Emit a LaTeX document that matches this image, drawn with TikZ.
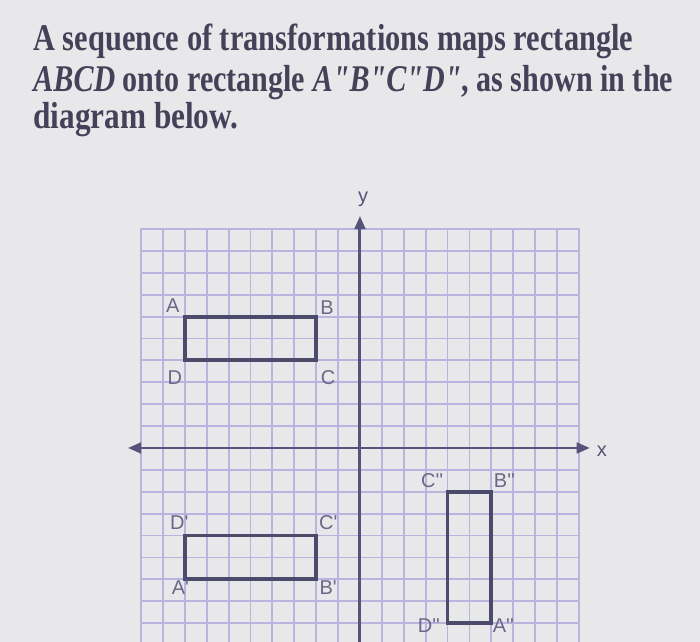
\documentclass[tikz,border=0pt]{standalone}
\usepackage{fontspec}
\setmainfont{Liberation Serif}
\newfontfamily\titlefont{Liberation Serif}
\newfontfamily\labelfont{Liberation Sans}
\usepackage{graphicx}
\usetikzlibrary{arrows.meta}
\definecolor{bgcol}{HTML}{E8E8EA}
\definecolor{gridcol}{HTML}{B8B4DE}
\definecolor{axiscol}{HTML}{55537A}
\definecolor{rectcol}{HTML}{4D4B6C}
\definecolor{labcol}{HTML}{6A6889}
\definecolor{textcol}{HTML}{444258}
\tikzset{
  gridline/.style={draw=gridcol, line width=1.2pt},
  axisline/.style={draw=axiscol, line width=1.9pt, {Triangle[length=3mm,width=2.4mm]}-{Triangle[length=3mm,width=2.4mm]}},
  figrect/.style={draw=rectcol, line width=2.5pt, line join=miter},
  ptlabel/.style={text=labcol, font=\labelfont\fontsize{13}{13}\selectfont, inner sep=0pt},
  axlabel/.style={text=axiscol, font=\labelfont\fontsize{13}{13}\selectfont, inner sep=0pt},
  titleline/.style={text=textcol, anchor=base west, inner sep=0pt, font=\titlefont\bfseries\fontsize{24.5}{24.5}\selectfont}
}
\begin{document}
\begin{tikzpicture}[x=0.5cm,y=0.5cm]
\useasboundingbox (-16.44,-8.86) rectangle (15.53,20.46);
\fill[bgcol] (-16.44,-8.86) rectangle (15.53,20.46);
% title
\node[titleline] (t1) at (-14.93,18.17) {\resizebox{13.70cm}{\height}{A sequence of transformations maps rectangle}};
\node[titleline] (t2) at (-14.93,16.30) {\resizebox{14.61cm}{\height}{\textit{ABCD} onto rectangle \textit{A"B"C"D"}, as shown in the}};
\node[titleline] (t3) at (-14.93,14.61) {\resizebox{4.68cm}{\height}{diagram below.}};
\begin{scope}
\clip (-16.44,-8.86) rectangle (15.53,20.46);
\draw[gridline, step=1] (-10,-10) grid (10,10);
\draw[gridline] (-10,-10) rectangle (10,10);
\coordinate (xl) at (-10.6,0);
\coordinate (xr) at (10.5,0);
\coordinate (yb) at (0,-10.6);
\coordinate (yt) at (0,10.6);
\draw[axisline] (xl) -- (xr);
\draw[axisline] (yb) -- (yt);
\end{scope}
\node[axlabel] (xlab) at (11.05,-0.15) {x};
\node[axlabel] (ylab) at (0.14,11.35) {y};
% ABCD
\coordinate (A) at (-8,6);
\coordinate (B) at (-2,6);
\coordinate (C) at (-2,4);
\coordinate (D) at (-8,4);
\draw[figrect] (A) -- (B) -- (C) -- (D) -- cycle;
\node[ptlabel] (lA) at (-8.55,6.5) {A};
\node[ptlabel] (lB) at (-1.5,6.4) {B};
\node[ptlabel] (lC) at (-1.45,3.2) {C};
\node[ptlabel] (lD) at (-8.45,3.2) {D};
% A'B'C'D'
\coordinate (A1) at (-8,-6);
\coordinate (B1) at (-2,-6);
\coordinate (C1) at (-2,-4);
\coordinate (D1) at (-8,-4);
\draw[figrect] (A1) -- (B1) -- (C1) -- (D1) -- cycle;
\node[ptlabel] (lA1) at (-8.2,-6.4) {A'};
\node[ptlabel] (lB1) at (-1.45,-6.4) {B'};
\node[ptlabel] (lC1) at (-1.45,-3.4) {C'};
\node[ptlabel] (lD1) at (-8.25,-3.4) {D'};
% A''B''C''D''
\coordinate (A2) at (6,-8);
\coordinate (B2) at (6,-2);
\coordinate (C2) at (4,-2);
\coordinate (D2) at (4,-8);
\draw[figrect] (A2) -- (B2) -- (C2) -- (D2) -- cycle;
\node[ptlabel] (lA2) at (6.55,-8.1) {A''};
\node[ptlabel] (lB2) at (6.6,-1.5) {B''};
\node[ptlabel] (lC2) at (3.3,-1.5) {C''};
\node[ptlabel] (lD2) at (3.15,-8.1) {D''};
\end{tikzpicture}
\end{document}
